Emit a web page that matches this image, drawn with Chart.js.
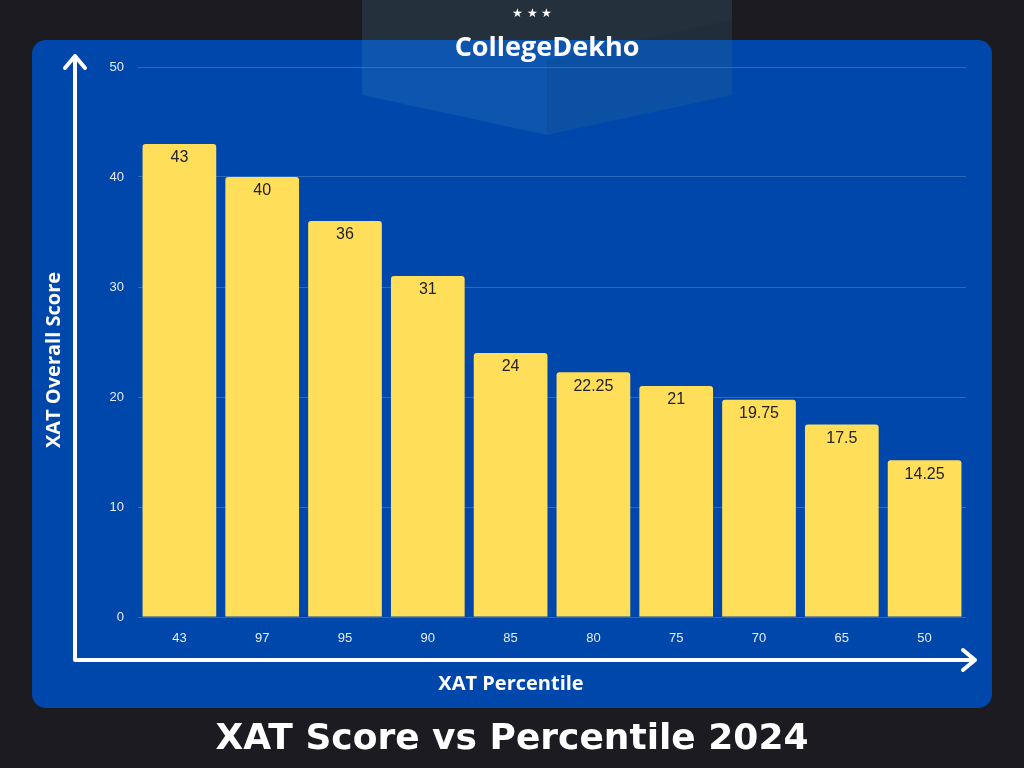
<!DOCTYPE html>
<html>
<head>
<meta charset="utf-8">
<script src="https://cdn.jsdelivr.net/npm/chart.js@4"></script>
<style>
  body { margin: 0; background: #1c1b22; }
  canvas { display: block; }
</style>
</head>
<body>
<canvas id="c" width="1024" height="768"></canvas>
<script>
const percentiles = ['43', '97', '95', '90', '85', '80', '75', '70', '65', '50'];
const scores = [43, 40, 36, 31, 24, 22.25, 21, 19.75, 17.5, 14.25];
const yTicks = [0, 10, 20, 30, 40, 50];

function rr(ctx, x, y, w, h, r) {
    ctx.beginPath();
    ctx.moveTo(x + r, y);
    ctx.arcTo(x + w, y, x + w, y + h, r);
    ctx.arcTo(x + w, y + h, x, y + h, r);
    ctx.arcTo(x, y + h, x, y, r);
    ctx.arcTo(x, y, x + w, y, r);
    ctx.closePath();
}

// panel, axis arrows, logo, titles
const decor = {
    id: 'decor',
    beforeDraw(chart) {
        const ctx = chart.ctx;
        ctx.save();
        ctx.fillStyle = '#1c1b22';
        ctx.fillRect(0, 0, 1024, 768);
        ctx.fillStyle = '#0047ab';
        rr(ctx, 32, 40, 960, 668, 14);
        ctx.fill();
        ctx.restore();
    },
    afterDraw(chart) {
        const ctx = chart.ctx;
        ctx.save();
        // logo backdrop
        ctx.fillStyle = 'rgba(80,160,200,0.16)';
        ctx.beginPath();
        ctx.moveTo(362, 0); ctx.lineTo(732, 0); ctx.lineTo(732, 95);
        ctx.lineTo(547, 135); ctx.lineTo(362, 95); ctx.closePath();
        ctx.fill();
        ctx.fillStyle = 'rgba(0,0,0,0.06)';
        ctx.beginPath();
        ctx.moveTo(547, 60); ctx.lineTo(732, 20); ctx.lineTo(732, 95);
        ctx.lineTo(547, 135); ctx.closePath();
        ctx.fill();
        ctx.fillStyle = '#fff';
        ctx.font = 'bold 27px "Open Sans", sans-serif';
        ctx.textAlign = 'center';
        ctx.textBaseline = 'middle';
        ctx.fillText('CollegeDekho', 547, 48);
        ctx.font = '12px sans-serif';
        ctx.fillText('★ ★ ★', 532, 14);

        // axis arrows
        ctx.strokeStyle = '#fff';
        ctx.lineWidth = 4;
        ctx.lineCap = 'round';
        ctx.lineJoin = 'round';
        ctx.beginPath();
        ctx.moveTo(75, 660); ctx.lineTo(75, 56);
        ctx.moveTo(65, 68); ctx.lineTo(75, 56); ctx.lineTo(85, 68);
        ctx.moveTo(75, 660); ctx.lineTo(975, 660);
        ctx.moveTo(963, 650); ctx.lineTo(975, 660); ctx.lineTo(963, 670);
        ctx.stroke();

        // axis titles
        ctx.font = 'bold 20px "Open Sans", sans-serif';
        ctx.fillText('XAT Percentile', 511, 684);
        ctx.translate(54, 360);
        ctx.rotate(-Math.PI / 2);
        ctx.fillText('XAT Overall Score', 0, 0);
        ctx.restore();

        ctx.save();
        ctx.fillStyle = '#fff';
        ctx.textAlign = 'center';
        ctx.textBaseline = 'middle';
        ctx.font = 'bold 36px "DejaVu Sans", sans-serif';
        ctx.fillText('XAT Score vs Percentile 2024', 512, 740);

        // value labels
        const meta = chart.getDatasetMeta(0);
        ctx.fillStyle = '#222';
        ctx.font = '16px "Liberation Sans", Arial, sans-serif';
        meta.data.forEach((bar, i) => {
            ctx.fillText(String(scores[i]), bar.x, bar.y + 14);
        });
        ctx.restore();
    }
};

new Chart(document.getElementById('c'), {
    type: 'bar',
    data: {
        labels: percentiles,
        datasets: [{
            data: scores,
            backgroundColor: '#ffdf5a',
            borderRadius: 3,
            borderSkipped: 'bottom',
            barPercentage: 0.89,
            categoryPercentage: 1
        }]
    },
    options: {
        responsive: false,
        animation: false,
        layout: { padding: { left: 96, right: 58, top: 67, bottom: 126 } },
        plugins: { legend: { display: false }, tooltip: { enabled: false } },
        scales: {
            x: {
                grid: { display: false },
                border: { display: false },
                ticks: { color: '#e6ecf8', font: { size: 13 }, padding: 6 },
                afterFit(s) { s.height = 25; }
            },
            y: {
                min: 0,
                max: 50,
                afterBuildTicks(s) { s.ticks = yTicks.map(v => ({ value: v })); },
                grid: { color: 'rgba(255,255,255,0.18)', drawTicks: false },
                border: { display: false },
                ticks: { color: '#e6ecf8', font: { size: 13 }, padding: 14 },
                afterFit(s) { s.width = 42; }
            }
        }
    },
    plugins: [decor]
});
</script>
</body>
</html>
